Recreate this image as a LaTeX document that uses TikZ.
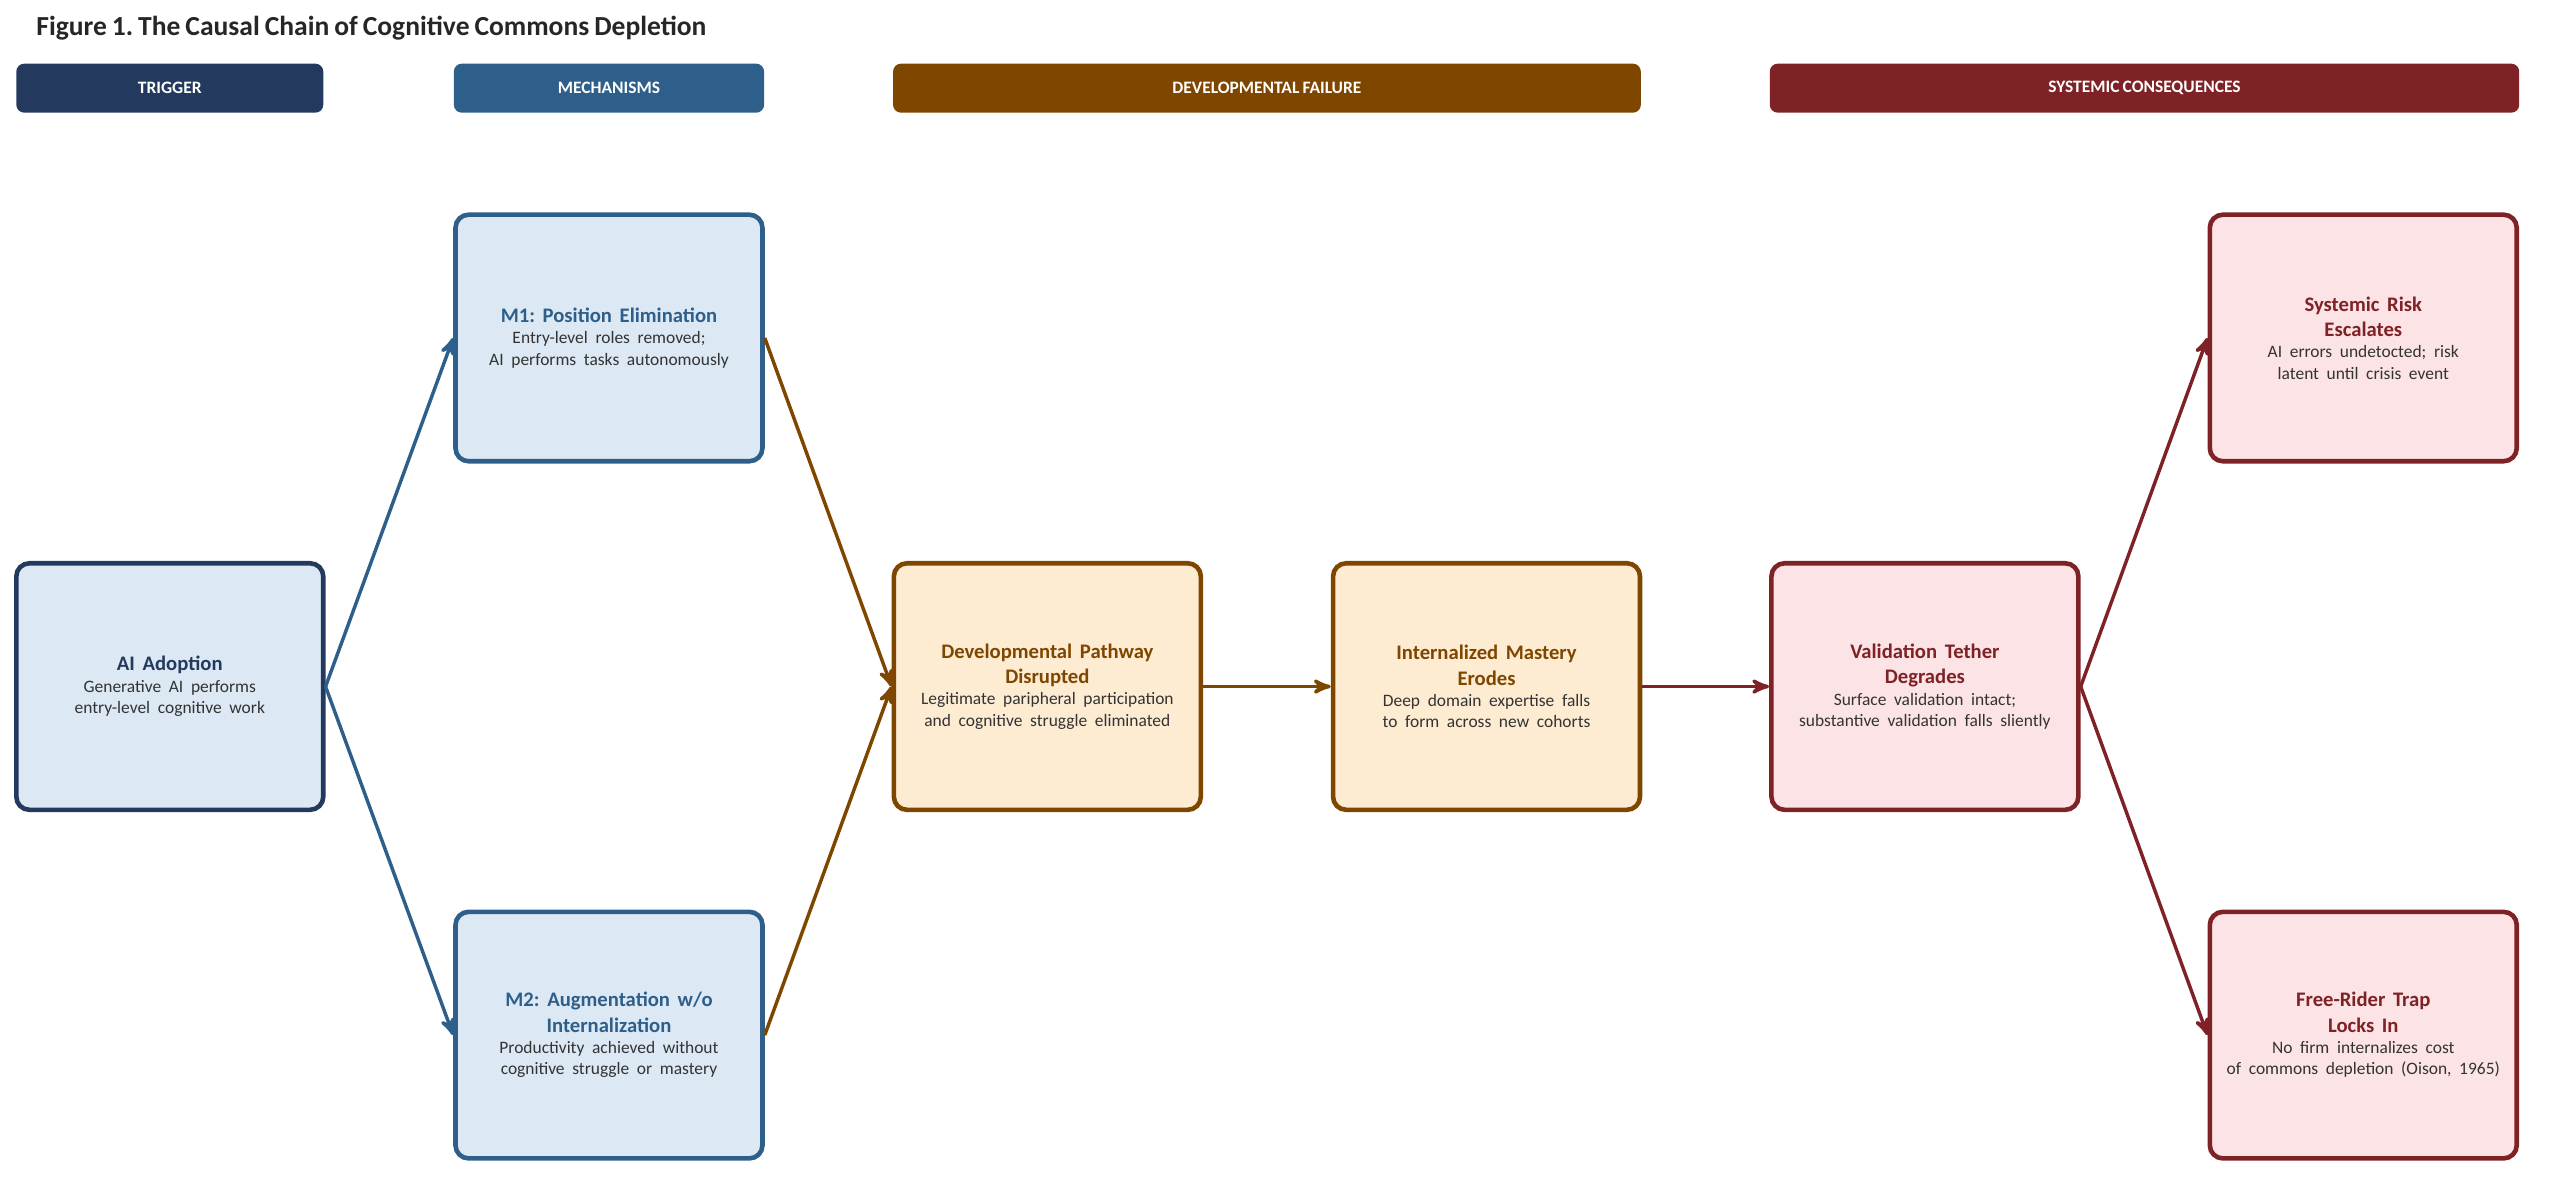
\documentclass[tikz,border=0pt]{standalone}
\usepackage{fontspec}
\setmainfont{Carlito}[WordSpace=0.8]
\frenchspacing
\usetikzlibrary{arrows}

\definecolor{trigC}{HTML}{233A5E}
\definecolor{mechC}{HTML}{2E5F8A}
\definecolor{devC}{HTML}{7F4600}
\definecolor{sysC}{HTML}{7E2226}
\definecolor{blueF}{HTML}{DCE8F4}
\definecolor{tanF}{HTML}{FDEBD2}
\definecolor{pinkF}{HTML}{FBE3E6}
\definecolor{bodyC}{HTML}{333333}

\tikzset{
 band/.style={fill=#1, rounded corners=1.2mm, minimum height=7.5mm, text=white, font=\fontsize{7.6}{8.5}\selectfont\bfseries},
 stage/.style 2 args={draw=#1, fill=#2, line width=2pt, rounded corners=2mm, minimum width=47mm, minimum height=37.75mm, text width=45mm, align=center, inner sep=0pt},
 link/.style={#1, line width=1.5pt, ->, >=stealth'},
}
\newcommand{\stagetext}[3]{{\color{#1}\fontsize{9}{11}\selectfont\bfseries #2\par}{\color{bodyC}\fontsize{7.6}{9.3}\selectfont #3\par}}

\begin{document}
\begin{tikzpicture}[x=0.25mm, y=-0.25mm]
\useasboundingbox (0,0) rectangle (1568,734);
\node[anchor=base west, inner sep=0pt, font=\fontsize{12}{14}\selectfont\bfseries, text=black!85] (title) at (22,22) {Figure 1. The Causal Chain of Cognitive Commons Depletion};

% column headers
\node[band=trigC, minimum width=47mm] (hTrig) at (104,54) {TRIGGER};
\node[band=mechC, minimum width=47.5mm] (hMech) at (373,54) {MECHANISMS};
\node[band=devC, minimum width=114.5mm] (hDev) at (776,54) {DEVELOPMENTAL FAILURE};
\node[band=sysC, minimum width=114.75mm] (hSys) at (1313.5,54) {SYSTEMIC CONSEQUENCES};

% stages
\node[stage={trigC}{blueF}] (ai) at (104,420.5) {\stagetext{trigC}{AI Adoption}{Generative AI performs\\ entry-level cognitive work}};
\node[stage={mechC}{blueF}] (m1) at (373,207) {\stagetext{mechC}{M1: Position Elimination}{Entry-level roles removed;\\ AI performs tasks autonomously}};
\node[stage={mechC}{blueF}] (m2) at (373,634) {\stagetext{mechC}{M2: Augmentation w/o\\ Internalization}{Productivity achieved without\\ cognitive struggle or mastery}};
\node[stage={devC}{tanF}] (path) at (641.5,420.5) {\stagetext{devC}{Developmental Pathway\\ Disrupted}{Legitimate paripheral participation\\ and cognitive struggle eliminated}};
\node[stage={devC}{tanF}] (mast) at (910.5,420.5) {\stagetext{devC}{Internalized Mastery\\ Erodes}{Deep domain expertise falls\\ to form across new cohorts}};
\node[stage={sysC}{pinkF}] (val) at (1179,420.5) {\stagetext{sysC}{Validation Tether\\ Degrades}{Surface validation intact;\\ substantive validation falls sliently}};
\node[stage={sysC}{pinkF}] (risk) at (1447.5,207) {\stagetext{sysC}{Systemic Risk\\ Escalates}{AI errors undetocted; risk\\ latent until crisis event}};
\node[stage={sysC}{pinkF}] (trap) at (1447.5,634) {\stagetext{sysC}{Free-Rider Trap\\ Locks In}{No firm internalizes cost\\ of commons depletion (Oison, 1965)}};

% links
\draw[link=mechC] (ai.east) -- (m1.west);
\draw[link=mechC] (ai.east) -- (m2.west);
\draw[link=devC] (m1.east) -- (path.west);
\draw[link=devC] (m2.east) -- (path.west);
\draw[link=devC] (path.east) -- (mast.west);
\draw[link=sysC] (mast.east) -- (val.west);
\draw[link=sysC] (val.east) -- (risk.west);
\draw[link=sysC] (val.east) -- (trap.west);
\end{tikzpicture}
\end{document}
